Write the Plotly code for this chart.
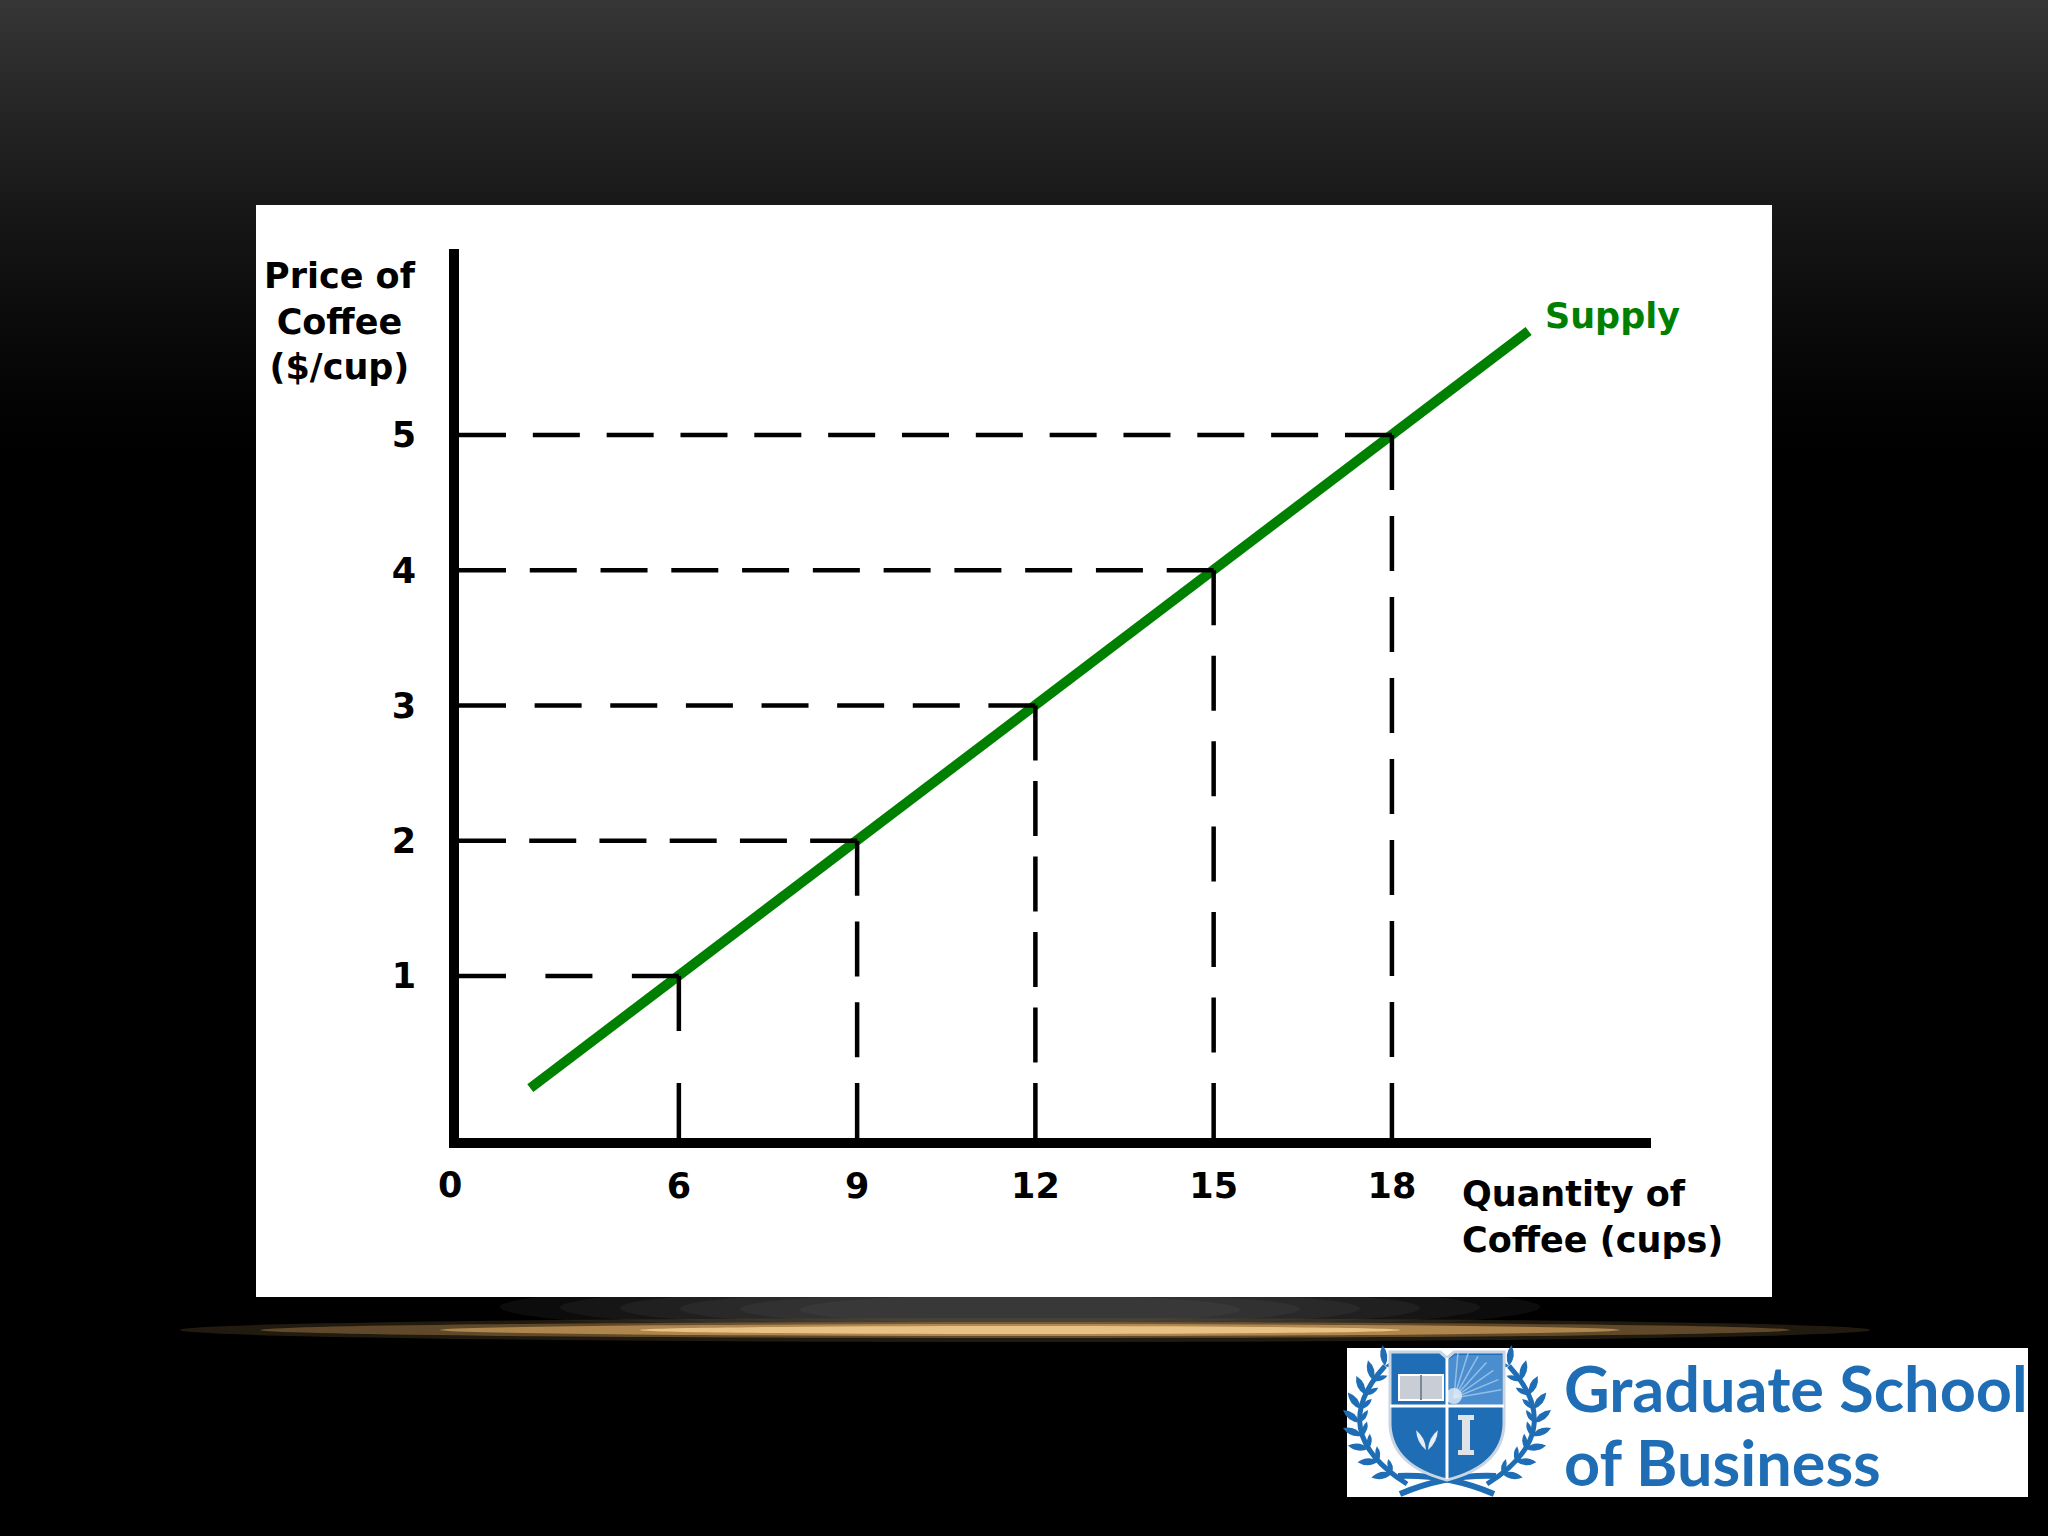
import plotly.graph_objects as go
import numpy as np

# supply schedule
quantity = [6, 9, 12, 15, 18]
price = [1, 2, 3, 4, 5]
x_labels = ["6", "9", "12", "15", "18"]
y_labels = ["1", "2", "3", "4", "5"]

# supply curve, including where the drawn line starts and stops
supply_q = [3.5, 6, 9, 12, 15, 18, 20.3]
supply_p = [0.17, 1, 2, 3, 4, 5, 5.77]

W, H = 2048, 1536
X_RANGE = [2.30, 22.36]
Y_RANGE = [-0.199, 6.376]
X_PIX = [459, 1651]
Y_PIX = [1138, 249]
FONT = "DejaVu Sans"
GREEN = "#008000"
LOGO_BLUE = "#1f6db4"


def fx(p):
    return p / W


def fy(p):
    return 1 - p / H


def rect(x0, y0, x1, y1, color, line=None, layer="below"):
    return dict(type="rect", xref="paper", yref="paper",
                x0=fx(x0), y0=fy(y0), x1=fx(x1), y1=fy(y1),
                fillcolor=color, line=line or dict(width=0), layer=layer)


def ellipse(x0, y0, x1, y1, color, layer="below"):
    return dict(type="circle", xref="paper", yref="paper",
                x0=fx(x0), y0=fy(y0), x1=fx(x1), y1=fy(y1),
                fillcolor=color, line=dict(width=0), layer=layer)


def path(pts, color, line=None, closed=True, layer="above"):
    # pts: list of (cmd, [x, y, ...]) in pixel coords; one command per point group
    per = {"M": 2, "L": 2, "Q": 4}
    parts = []
    for cmd, coords in pts:
        n = per[cmd]
        for i in range(0, len(coords), n):
            grp = coords[i:i + n]
            xy = [f"{fx(grp[j]):.5f},{fy(grp[j + 1]):.5f}" for j in range(0, n, 2)]
            parts.append(cmd + " ".join(xy))
    s = " ".join(parts) + (" Z" if closed else "")
    return dict(type="path", xref="paper", yref="paper", path=s,
                fillcolor=color, line=line or dict(width=0), layer=layer)


def stroke(pts, color, width):
    return path(pts, "rgba(0,0,0,0)", line=dict(color=color, width=width), closed=False)


def leaf(base, direction, length, width, color):
    d = direction / np.linalg.norm(direction)
    tip = base + d * length
    perp = np.array([-d[1], d[0]]) * width
    mid = base + d * length * 0.5
    return path([("M", [*base]), ("Q", [*(mid + perp), *tip]), ("Q", [*(mid - perp), *base])], color)


def fitted_dash(length_px, dash, gap):
    # stretch the gap a little so the dashed line is solid at both ends
    n = max(1, round((length_px - dash) / (dash + gap)))
    g = (length_px - dash * (n + 1)) / n
    return f"{dash}px,{g:.2f}px"


x_scale = (X_PIX[1] - X_PIX[0]) / (X_RANGE[1] - X_RANGE[0])
y_scale = (Y_PIX[0] - Y_PIX[1]) / (Y_RANGE[1] - Y_RANGE[0])

shapes = []

# dark slide background fading from grey to black
n_bands = 60
for i in range(n_bands):
    y0 = i * 480 / n_bands
    y1 = (i + 1) * 480 / n_bands
    t = i / (n_bands - 1)
    v = int(54 * (1 - t) ** 1.4)
    shapes.append(rect(0, y0, W, y1 + 1, f"rgb({v},{v},{v})"))

# soft haze under the panel
for k in range(6):
    shapes.append(ellipse(500 + k * 60, 1280 + k * 3, 1540 - k * 60, 1334 - k * 2,
                          "rgba(130,130,130,0.09)"))

# white chart panel
shapes.append(rect(256, 205, 1772, 1297, "white"))

# golden glow line
shapes.append(ellipse(180, 1318, 1870, 1342, "rgba(110,85,50,0.3)"))
shapes.append(ellipse(260, 1322, 1790, 1338, "rgba(160,120,70,0.5)"))
shapes.append(ellipse(440, 1324, 1620, 1336, "rgba(200,155,90,0.75)"))
shapes.append(ellipse(640, 1326, 1400, 1334, "rgba(240,200,140,0.9)"))

# logo box
shapes.append(rect(1347, 1348, 2028, 1497, "white"))

# laurel wreath: stem curves with leaves
for side in (-1, 1):
    cx = 1447
    p0 = np.array([cx + side * 62, 1366.0])
    p1 = np.array([cx + side * 122, 1432.0])
    p2 = np.array([cx + side * 40, 1484.0])
    shapes.append(stroke([("M", [*p0]), ("Q", [*p1, *p2])], LOGO_BLUE, 5))
    for t in np.linspace(0.0, 0.9, 9):
        pt = (1 - t) ** 2 * p0 + 2 * (1 - t) * t * p1 + t ** 2 * p2
        tan = 2 * (1 - t) * (p1 - p0) + 2 * t * (p2 - p1)
        up = -tan / np.linalg.norm(tan)
        out = np.array([-up[1], up[0]])
        if out[0] * side < 0:
            out = -out
        shapes.append(leaf(pt, 0.65 * up + 0.75 * out, 21, 7, LOGO_BLUE))
        shapes.append(leaf(pt, 0.8 * up - 0.6 * out, 15, 5, LOGO_BLUE))

# ribbon at the bottom of the wreath
shapes.append(stroke([("M", [1398, 1476]), ("Q", [1447, 1474, 1494, 1494])], LOGO_BLUE, 6))
shapes.append(stroke([("M", [1496, 1476]), ("Q", [1447, 1474, 1400, 1494])], LOGO_BLUE, 6))

# shield
shield = [("M", [1390, 1352]), ("L", [1440, 1352, 1447, 1358, 1454, 1352, 1504, 1352, 1504, 1425]),
          ("Q", [1502, 1466, 1447, 1480]), ("Q", [1392, 1466, 1390, 1425])]
shapes.append(path(shield, LOGO_BLUE, line=dict(color="#c9d5e3", width=3)))
quad = [("M", [1449, 1359]), ("L", [1455, 1355, 1502, 1355, 1502, 1405, 1449, 1405])]
shapes.append(path(quad, "#4a8ed0"))
# sun rays in the upper right quarter
for ang in np.linspace(-170, -95, 7):
    r = np.radians(ang)
    shapes.append(stroke([("M", [1454, 1398]),
                          ("L", [1454 + 48 * np.cos(r) * -1, 1398 + 48 * np.sin(r)])],
                         "rgba(200,222,245,0.6)", 1.5))
shapes.append(ellipse(1446, 1388, 1462, 1404, "rgba(225,236,248,0.8)", layer="above"))
shapes.append(stroke([("M", [1390, 1406]), ("L", [1504, 1406])], "white", 3))
shapes.append(stroke([("M", [1447, 1358]), ("L", [1447, 1479])], "white", 3))
# book
shapes.append(rect(1399, 1375, 1443, 1400, "#c9ced6", line=dict(color="white", width=2),
                   layer="above"))
shapes.append(stroke([("M", [1421, 1375]), ("L", [1421, 1400])], "#7d8894", 2))
# pillar
shapes.append(rect(1462, 1419, 1470, 1451, "#dfe3e8", layer="above"))
shapes.append(rect(1458, 1415, 1474, 1420, "#dfe3e8", layer="above"))
shapes.append(rect(1458, 1450, 1474, 1455, "#dfe3e8", layer="above"))
# hands holding a flame
shapes.append(leaf(np.array([1426.0, 1450.0]), np.array([-0.5, -1.0]), 22, 5, "#e6edf5"))
shapes.append(leaf(np.array([1428.0, 1450.0]), np.array([0.5, -1.0]), 22, 5, "#e6edf5"))

fig = go.Figure()

fig.add_trace(go.Scatter(
    x=supply_q, y=supply_p, mode="lines",
    line=dict(color=GREEN, width=10), hoverinfo="skip", showlegend=False,
))

# dashed guide lines: from the price axis across, and from the quantity axis up
for q, p in zip(quantity, price):
    h_len = (q - X_RANGE[0]) * x_scale
    v_len = (p - Y_RANGE[0]) * y_scale
    fig.add_trace(go.Scatter(
        x=[X_RANGE[0], q], y=[p, p], mode="lines",
        line=dict(color="black", width=4.5, dash=fitted_dash(h_len, 47, 25)),
        hoverinfo="skip", showlegend=False,
    ))
    fig.add_trace(go.Scatter(
        x=[q, q], y=[Y_RANGE[0], p], mode="lines",
        line=dict(color="black", width=4.5, dash=fitted_dash(v_len, 55, 27)),
        hoverinfo="skip", showlegend=False,
    ))

tick_font = dict(family=FONT, size=35, color="black", weight="bold")

fig.update_xaxes(
    range=X_RANGE, domain=[fx(X_PIX[0]), fx(X_PIX[1])],
    showline=True, linecolor="black", linewidth=10,
    showgrid=False, zeroline=False,
    tickvals=quantity, ticktext=x_labels,
    ticks="outside", ticklen=8, tickcolor="rgba(0,0,0,0)",
    tickfont=tick_font,
)
fig.update_yaxes(
    range=Y_RANGE, domain=[fy(Y_PIX[0]), fy(Y_PIX[1])],
    showline=True, linecolor="black", linewidth=10,
    showgrid=False, zeroline=False,
    tickvals=price, ticktext=y_labels,
    ticks="outside", ticklen=26, tickcolor="rgba(0,0,0,0)",
    tickfont=tick_font,
)

label_font = dict(family=FONT, size=35, color="black", weight="bold")
annotations = [
    dict(text="Price of<br>Coffee<br>($/cup)", x=fx(340), y=fy(321),
         xanchor="center", yanchor="middle", align="center", font=label_font),
    dict(text="Quantity of<br>Coffee (cups)", x=fx(1460), y=fy(1217),
         xanchor="left", yanchor="middle", align="left", font=label_font),
    dict(text="0", x=fx(450), y=fy(1185), xanchor="center", yanchor="middle",
         font=label_font),
    dict(text="Supply", x=fx(1543), y=fy(316), xanchor="left", yanchor="middle",
         font=dict(family=FONT, size=35, color=GREEN, weight="bold")),
    dict(text="Graduate School", x=fx(1562), y=fy(1387), xanchor="left", yanchor="middle",
         font=dict(family="Lato", size=63, color=LOGO_BLUE, weight="bold")),
    dict(text="of Business", x=fx(1562), y=fy(1461), xanchor="left", yanchor="middle",
         font=dict(family="Lato", size=63, color=LOGO_BLUE, weight="bold")),
]
for a in annotations:
    a.update(xref="paper", yref="paper", showarrow=False)

fig.update_layout(
    width=W, height=H,
    margin=dict(l=0, r=0, t=0, b=0),
    paper_bgcolor="black", plot_bgcolor="rgba(0,0,0,0)",
    shapes=shapes, annotations=annotations,
    showlegend=False,
)

fig.write_html("out.html", config={"displayModeBar": False},
               post_script="document.body.style.margin='0px';document.body.style.overflow='hidden';")
